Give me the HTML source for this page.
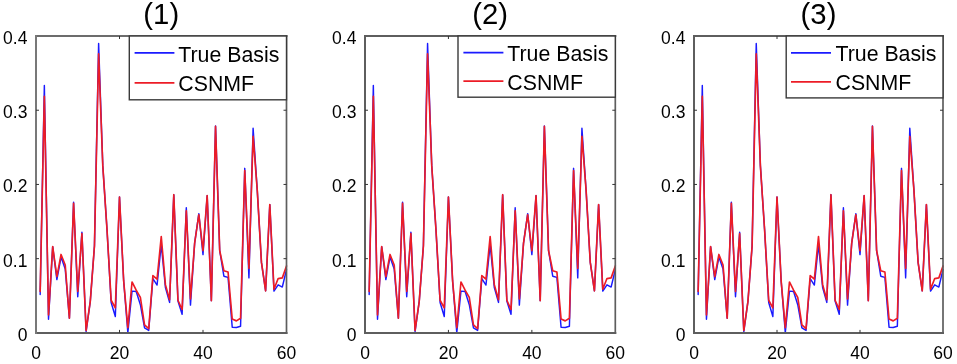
<!DOCTYPE html>
<html><head><meta charset="utf-8"><title>Figure</title>
<style>
html,body{margin:0;padding:0;background:#fff;}
body{width:957px;height:364px;overflow:hidden;}
svg{display:block;font-family:'Liberation Sans', Arial, Helvetica, sans-serif;}
</style></head>
<body>
<svg width="957" height="364" viewBox="0 0 957 364">
<rect x="0" y="0" width="957" height="364" fill="#fff"/>
<g><polyline points="40.17,294.44 44.35,85.44 48.52,319.24 52.7,246.66 56.88,279.6 61.05,257.05 65.22,269.07 69.4,318.2 73.58,202.12 77.75,296.67 81.92,232.18 86.1,331.56 90.28,301.35 94.45,246.06 98.62,43.43 102.8,165.89 106.97,228.98 111.15,302.47 115.33,316.56 119.5,197.07 123.67,280.94 127.85,332.74 132.03,291.12 136.2,291.56 140.38,304.69 144.55,327.78 148.72,330.37 152.9,278.57 157.07,285.02 161.25,244.43 165.43,287.62 169.6,302.39 173.78,194.7 177.95,300.98 182.12,314.34 186.3,207.69 190.47,305.13 194.65,243.09 198.82,213.63 203,254.59 207.18,195.66 211.35,300.61 215.53,126.04 219.7,250.51 223.88,276.19 228.05,277.38 232.22,327.18 236.4,327.47 240.57,326.29 244.75,168.35 248.93,277.89 253.1,128.19 257.27,190.39 261.45,262.39 265.62,290.81 269.8,204.65 273.98,291.1 278.15,284.81 282.32,287.02 286.5,269.67" fill="none" stroke="#1a1aff" stroke-width="1.45" stroke-linejoin="round" stroke-linecap="round"/><polyline points="40.17,291.48 44.35,96.28 48.52,314.86 52.7,246.66 56.88,276.63 61.05,254.45 65.22,265.06 69.4,318.2 73.58,203.24 77.75,291.48 81.92,233.67 86.1,330.52 90.28,301.35 94.45,246.06 98.62,53.82 102.8,165.89 106.97,228.98 111.15,300.24 115.33,307.88 119.5,197.07 123.67,280.94 127.85,327.7 132.03,281.99 136.2,290.22 140.38,297.42 144.55,324.88 148.72,328.59 152.9,275.6 157.07,279.15 161.25,236.49 165.43,284.65 169.6,299.71 173.78,194.7 177.95,300.24 182.12,309.51 186.3,210.73 190.47,298.9 194.65,243.09 198.82,214.74 203,250.65 207.18,195.66 211.35,300.61 215.53,126.41 219.7,250.51 223.88,270.77 228.05,272.04 232.22,319.09 236.4,320.87 240.57,318.28 244.75,170.65 248.93,268.47 253.1,136.28 257.27,190.39 261.45,262.39 265.62,290.81 269.8,204.65 273.98,289.25 278.15,278.57 282.32,277.89 286.5,265.96" fill="none" stroke="#ec1c26" stroke-width="1.65" stroke-linejoin="round" stroke-linecap="round"/><path d="M35 333H287.5" fill="none" stroke="#5e5e5e" stroke-width="2"/><path d="M35 36H287.5" fill="none" stroke="#6c6c6c" stroke-width="2"/><path d="M36 35V334" fill="none" stroke="#787878" stroke-width="2"/><path d="M286.5 35V334" fill="none" stroke="#5e5e5e" stroke-width="1.7"/><line x1="36" y1="258.67" x2="39" y2="258.67" stroke="#333" stroke-width="1"/><line x1="286.5" y1="258.67" x2="283.5" y2="258.67" stroke="#333" stroke-width="1"/><line x1="36" y1="184.45" x2="39" y2="184.45" stroke="#333" stroke-width="1"/><line x1="286.5" y1="184.45" x2="283.5" y2="184.45" stroke="#333" stroke-width="1"/><line x1="36" y1="110.22" x2="39" y2="110.22" stroke="#333" stroke-width="1"/><line x1="286.5" y1="110.22" x2="283.5" y2="110.22" stroke="#333" stroke-width="1"/><line x1="119.5" y1="332.9" x2="119.5" y2="329.9" stroke="#333" stroke-width="1"/><line x1="119.5" y1="36" x2="119.5" y2="39" stroke="#333" stroke-width="1"/><line x1="203" y1="332.9" x2="203" y2="329.9" stroke="#333" stroke-width="1"/><line x1="203" y1="36" x2="203" y2="39" stroke="#333" stroke-width="1"/><rect x="129.3" y="36" width="157.2" height="63.8" fill="#fff" stroke="#3a3a3a" stroke-width="1.4"/><line x1="134.6" y1="52.9" x2="174.4" y2="52.9" stroke="#1a1aff" stroke-width="1.8"/><line x1="134.6" y1="82.8" x2="174.4" y2="82.8" stroke="#ec1c26" stroke-width="1.8"/><text x="178.3" y="61.5" font-size="21.3" fill="#000">True Basis</text><text x="178.3" y="90.9" font-size="21.3" fill="#000">CSNMF</text><text x="27.4" y="340.9" font-size="17.5" text-anchor="end" fill="#000">0</text><text x="27.4" y="266.67" font-size="17.5" text-anchor="end" fill="#000">0.1</text><text x="27.4" y="192.45" font-size="17.5" text-anchor="end" fill="#000">0.2</text><text x="27.4" y="118.22" font-size="17.5" text-anchor="end" fill="#000">0.3</text><text x="27.4" y="44" font-size="17.5" text-anchor="end" fill="#000">0.4</text><text x="36" y="358.5" font-size="17.5" text-anchor="middle" fill="#000">0</text><text x="119.5" y="358.5" font-size="17.5" text-anchor="middle" fill="#000">20</text><text x="203" y="358.5" font-size="17.5" text-anchor="middle" fill="#000">40</text><text x="286.5" y="358.5" font-size="17.5" text-anchor="middle" fill="#000">60</text><text x="161.25" y="23.9" font-size="29.3" text-anchor="middle" fill="#000">(1)</text></g>
<g><polyline points="369.17,294.44 373.34,85.44 377.51,319.24 381.69,246.66 385.86,279.6 390.03,257.05 394.2,269.07 398.37,318.2 402.55,202.12 406.72,296.67 410.89,232.18 415.06,331.56 419.23,301.35 423.4,246.06 427.57,43.43 431.75,165.89 435.92,228.98 440.09,302.47 444.26,316.56 448.43,197.07 452.61,280.94 456.78,332.74 460.95,291.12 465.12,291.56 469.29,304.69 473.46,327.78 477.63,330.37 481.81,278.57 485.98,285.02 490.15,244.43 494.32,287.62 498.49,302.39 502.66,194.7 506.84,300.98 511.01,314.34 515.18,207.69 519.35,305.13 523.52,243.09 527.69,213.63 531.87,254.59 536.04,195.66 540.21,300.61 544.38,126.04 548.55,250.51 552.72,276.19 556.9,277.38 561.07,327.18 565.24,327.47 569.41,326.29 573.58,168.35 577.75,277.89 581.93,128.19 586.1,190.39 590.27,262.39 594.44,290.81 598.61,204.65 602.78,291.1 606.96,284.81 611.13,287.02 615.3,269.67" fill="none" stroke="#1a1aff" stroke-width="1.45" stroke-linejoin="round" stroke-linecap="round"/><polyline points="369.17,291.48 373.34,96.28 377.51,314.86 381.69,246.66 385.86,276.63 390.03,254.45 394.2,265.06 398.37,318.2 402.55,203.24 406.72,291.48 410.89,233.67 415.06,330.52 419.23,301.35 423.4,246.06 427.57,53.82 431.75,165.89 435.92,228.98 440.09,300.24 444.26,307.88 448.43,197.07 452.61,280.94 456.78,327.7 460.95,281.99 465.12,290.22 469.29,297.42 473.46,324.88 477.63,328.59 481.81,275.6 485.98,279.15 490.15,236.49 494.32,284.65 498.49,299.71 502.66,194.7 506.84,300.24 511.01,309.51 515.18,210.73 519.35,298.9 523.52,243.09 527.69,214.74 531.87,250.65 536.04,195.66 540.21,300.61 544.38,126.41 548.55,250.51 552.72,270.77 556.9,272.04 561.07,319.09 565.24,320.87 569.41,318.28 573.58,170.65 577.75,268.47 581.93,136.28 586.1,190.39 590.27,262.39 594.44,290.81 598.61,204.65 602.78,289.25 606.96,278.57 611.13,277.89 615.3,265.96" fill="none" stroke="#ec1c26" stroke-width="1.65" stroke-linejoin="round" stroke-linecap="round"/><path d="M364 333H616.3" fill="none" stroke="#5e5e5e" stroke-width="2"/><path d="M364 36H616.3" fill="none" stroke="#5e5e5e" stroke-width="2"/><path d="M365 35V334" fill="none" stroke="#5e5e5e" stroke-width="2"/><path d="M615.3 35V334" fill="none" stroke="#5e5e5e" stroke-width="1.7"/><line x1="365" y1="258.67" x2="368" y2="258.67" stroke="#333" stroke-width="1"/><line x1="615.3" y1="258.67" x2="612.3" y2="258.67" stroke="#333" stroke-width="1"/><line x1="365" y1="184.45" x2="368" y2="184.45" stroke="#333" stroke-width="1"/><line x1="615.3" y1="184.45" x2="612.3" y2="184.45" stroke="#333" stroke-width="1"/><line x1="365" y1="110.22" x2="368" y2="110.22" stroke="#333" stroke-width="1"/><line x1="615.3" y1="110.22" x2="612.3" y2="110.22" stroke="#333" stroke-width="1"/><line x1="448.43" y1="332.9" x2="448.43" y2="329.9" stroke="#333" stroke-width="1"/><line x1="448.43" y1="36" x2="448.43" y2="39" stroke="#333" stroke-width="1"/><line x1="531.87" y1="332.9" x2="531.87" y2="329.9" stroke="#333" stroke-width="1"/><line x1="531.87" y1="36" x2="531.87" y2="39" stroke="#333" stroke-width="1"/><rect x="458" y="36" width="157.3" height="61.2" fill="#fff" stroke="#3a3a3a" stroke-width="1.4"/><line x1="463.4" y1="52.6" x2="503.4" y2="52.6" stroke="#1a1aff" stroke-width="1.8"/><line x1="463.4" y1="81.2" x2="503.4" y2="81.2" stroke="#ec1c26" stroke-width="1.8"/><text x="507.3" y="61.2" font-size="21.3" fill="#000">True Basis</text><text x="507.3" y="89.5" font-size="21.3" fill="#000">CSNMF</text><text x="356.4" y="340.9" font-size="17.5" text-anchor="end" fill="#000">0</text><text x="356.4" y="266.67" font-size="17.5" text-anchor="end" fill="#000">0.1</text><text x="356.4" y="192.45" font-size="17.5" text-anchor="end" fill="#000">0.2</text><text x="356.4" y="118.22" font-size="17.5" text-anchor="end" fill="#000">0.3</text><text x="356.4" y="44" font-size="17.5" text-anchor="end" fill="#000">0.4</text><text x="365" y="358.5" font-size="17.5" text-anchor="middle" fill="#000">0</text><text x="448.43" y="358.5" font-size="17.5" text-anchor="middle" fill="#000">20</text><text x="531.87" y="358.5" font-size="17.5" text-anchor="middle" fill="#000">40</text><text x="615.3" y="358.5" font-size="17.5" text-anchor="middle" fill="#000">60</text><text x="490.15" y="23.9" font-size="29.3" text-anchor="middle" fill="#000">(2)</text></g>
<g><polyline points="698.15,294.44 702.3,85.44 706.45,319.24 710.6,246.66 714.75,279.6 718.9,257.05 723.05,269.07 727.2,318.2 731.35,202.12 735.5,296.67 739.65,232.18 743.8,331.56 747.95,301.35 752.1,246.06 756.25,43.43 760.4,165.89 764.55,228.98 768.7,302.47 772.85,316.56 777,197.07 781.15,280.94 785.3,332.74 789.45,291.12 793.6,291.56 797.75,304.69 801.9,327.78 806.05,330.37 810.2,278.57 814.35,285.02 818.5,244.43 822.65,287.62 826.8,302.39 830.95,194.7 835.1,300.98 839.25,314.34 843.4,207.69 847.55,305.13 851.7,243.09 855.85,213.63 860,254.59 864.15,195.66 868.3,300.61 872.45,126.04 876.6,250.51 880.75,276.19 884.9,277.38 889.05,327.18 893.2,327.47 897.35,326.29 901.5,168.35 905.65,277.89 909.8,128.19 913.95,190.39 918.1,262.39 922.25,290.81 926.4,204.65 930.55,291.1 934.7,284.81 938.85,287.02 943,269.67" fill="none" stroke="#1a1aff" stroke-width="1.45" stroke-linejoin="round" stroke-linecap="round"/><polyline points="698.15,291.48 702.3,96.28 706.45,314.86 710.6,246.66 714.75,276.63 718.9,254.45 723.05,265.06 727.2,318.2 731.35,203.24 735.5,291.48 739.65,233.67 743.8,330.52 747.95,301.35 752.1,246.06 756.25,53.82 760.4,165.89 764.55,228.98 768.7,300.24 772.85,307.88 777,197.07 781.15,280.94 785.3,327.7 789.45,281.99 793.6,290.22 797.75,297.42 801.9,324.88 806.05,328.59 810.2,275.6 814.35,279.15 818.5,236.49 822.65,284.65 826.8,299.71 830.95,194.7 835.1,300.24 839.25,309.51 843.4,210.73 847.55,298.9 851.7,243.09 855.85,214.74 860,250.65 864.15,195.66 868.3,300.61 872.45,126.41 876.6,250.51 880.75,270.77 884.9,272.04 889.05,319.09 893.2,320.87 897.35,318.28 901.5,170.65 905.65,268.47 909.8,136.28 913.95,190.39 918.1,262.39 922.25,290.81 926.4,204.65 930.55,289.25 934.7,278.57 938.85,277.89 943,265.96" fill="none" stroke="#ec1c26" stroke-width="1.65" stroke-linejoin="round" stroke-linecap="round"/><path d="M693 333H944" fill="none" stroke="#5e5e5e" stroke-width="2"/><path d="M693 36H944" fill="none" stroke="#5e5e5e" stroke-width="2"/><path d="M694 35V334" fill="none" stroke="#5e5e5e" stroke-width="2"/><path d="M943 35V334" fill="none" stroke="#5e5e5e" stroke-width="1.7"/><line x1="694" y1="258.67" x2="697" y2="258.67" stroke="#333" stroke-width="1"/><line x1="943" y1="258.67" x2="940" y2="258.67" stroke="#333" stroke-width="1"/><line x1="694" y1="184.45" x2="697" y2="184.45" stroke="#333" stroke-width="1"/><line x1="943" y1="184.45" x2="940" y2="184.45" stroke="#333" stroke-width="1"/><line x1="694" y1="110.22" x2="697" y2="110.22" stroke="#333" stroke-width="1"/><line x1="943" y1="110.22" x2="940" y2="110.22" stroke="#333" stroke-width="1"/><line x1="777" y1="332.9" x2="777" y2="329.9" stroke="#333" stroke-width="1"/><line x1="777" y1="36" x2="777" y2="39" stroke="#333" stroke-width="1"/><line x1="860" y1="332.9" x2="860" y2="329.9" stroke="#333" stroke-width="1"/><line x1="860" y1="36" x2="860" y2="39" stroke="#333" stroke-width="1"/><rect x="786.2" y="36" width="156.8" height="61.9" fill="#fff" stroke="#3a3a3a" stroke-width="1.4"/><line x1="791" y1="52.8" x2="831" y2="52.8" stroke="#1a1aff" stroke-width="1.8"/><line x1="791" y1="81.8" x2="831" y2="81.8" stroke="#ec1c26" stroke-width="1.8"/><text x="835.5" y="61.4" font-size="21.3" fill="#000">True Basis</text><text x="835.5" y="89.6" font-size="21.3" fill="#000">CSNMF</text><text x="685.4" y="340.9" font-size="17.5" text-anchor="end" fill="#000">0</text><text x="685.4" y="266.67" font-size="17.5" text-anchor="end" fill="#000">0.1</text><text x="685.4" y="192.45" font-size="17.5" text-anchor="end" fill="#000">0.2</text><text x="685.4" y="118.22" font-size="17.5" text-anchor="end" fill="#000">0.3</text><text x="685.4" y="44" font-size="17.5" text-anchor="end" fill="#000">0.4</text><text x="694" y="358.5" font-size="17.5" text-anchor="middle" fill="#000">0</text><text x="777" y="358.5" font-size="17.5" text-anchor="middle" fill="#000">20</text><text x="860" y="358.5" font-size="17.5" text-anchor="middle" fill="#000">40</text><text x="943" y="358.5" font-size="17.5" text-anchor="middle" fill="#000">60</text><text x="818.5" y="23.9" font-size="29.3" text-anchor="middle" fill="#000">(3)</text></g>
</svg>
</body></html>
